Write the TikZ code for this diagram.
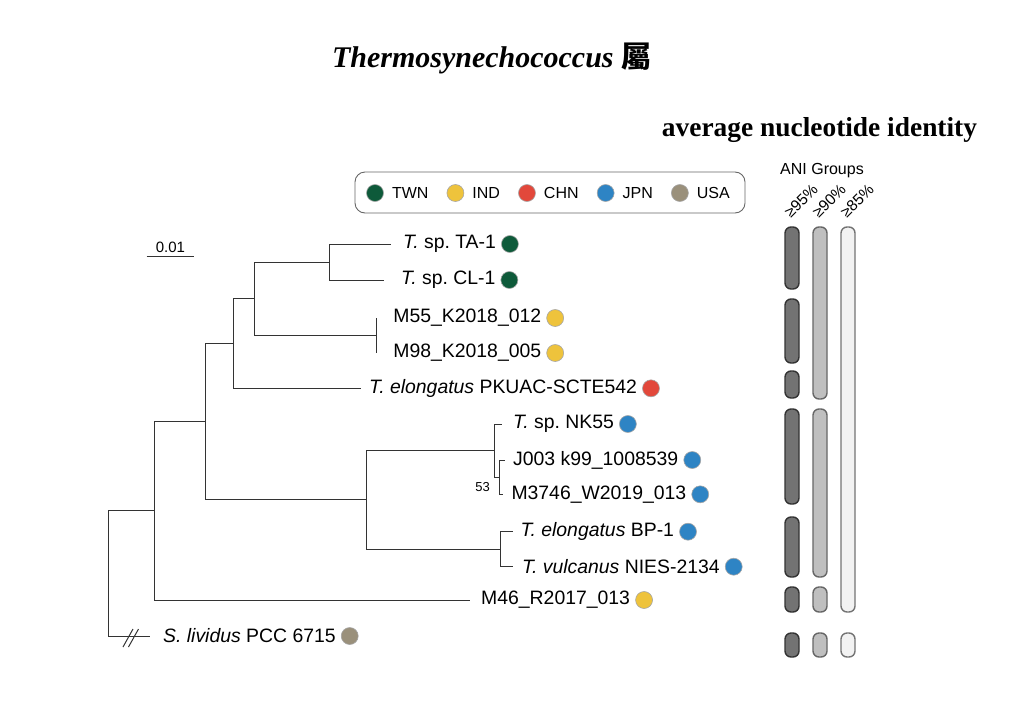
\documentclass[tikz,border=0pt]{standalone}
\usepackage{fontspec}
\setmainfont{Liberation Sans}
\newfontfamily\titlefont{Liberation Serif}
\newfontfamily\cjkfont{Noto Sans CJK TC}
\usetikzlibrary{positioning,calc}
\frenchspacing

\definecolor{twn}{HTML}{0E5A3A}
\definecolor{ind}{HTML}{EEC33C}
\definecolor{chn}{HTML}{E2483B}
\definecolor{jpn}{HTML}{2E84C4}
\definecolor{usa}{HTML}{9A907B}

\tikzset{
  branch/.style={draw=black!80, line width=1pt},
  lab/.style={inner sep=0pt, font=\fontsize{19.4}{21}\selectfont},
  small/.style={inner sep=0pt, font=\fontsize{16}{18}\selectfont},
  dot/.style={circle, draw=black!35, line width=0.6pt, fill=#1, minimum size=17pt, inner sep=0pt},
  anibar/.style={line width=1.4pt, rounded corners=6pt},
}

\begin{document}
\begin{tikzpicture}[x=1pt,y=-1pt]
    \useasboundingbox (0,0) rectangle (1027,715);

    % headings
    \node[inner sep=0pt] (title) at (492,58)
      {\fontsize{30}{34}\selectfont{\titlefont\bfseries\itshape Thermosynechococcus} {\cjkfont\bfseries 屬}};
    \node[inner sep=0pt] (anititle) at (819.5,130)
      {\fontsize{27.4}{30}\selectfont\titlefont\bfseries average nucleotide identity};

    % legend
    \node[draw=black!60, line width=0.9pt, rounded corners=10pt, minimum width=390pt, minimum height=41pt] (legend) at (550,192.5) {};
    \node[dot=twn] (kTWN) at (375,193) {};
    \node[small, right=8pt of kTWN] (tTWN) {TWN};
    \node[dot=ind, right=18pt of tTWN] (kIND) {};
    \node[small, right=8pt of kIND] (tIND) {IND};
    \node[dot=chn, right=18pt of tIND] (kCHN) {};
    \node[small, right=8pt of kCHN] (tCHN) {CHN};
    \node[dot=jpn, right=18pt of tCHN] (kJPN) {};
    \node[small, right=8pt of kJPN] (tJPN) {JPN};
    \node[dot=usa, right=18pt of tJPN] (kUSA) {};
    \node[small, right=8pt of kUSA] (tUSA) {USA};

    % scale bar
    \coordinate (sbL) at (146.7,256.7);
    \coordinate (sbR) at (194,256.7);
    \node[small, font=\fontsize{15}{17}\selectfont, above=4pt] (sbtext) at ($(sbL)!0.5!(sbR)$) {0.01};
    \draw[black!80, line width=1pt] (sbL) -- (sbR);

    % internal nodes and tips
    \coordinate (r)   at (108,573.4);
    \coordinate (n1)  at (154,510.8);
    \coordinate (n2)  at (205,421.6);
    \coordinate (n3)  at (233.3,343.5);
    \coordinate (n4)  at (254,298.7);
    \coordinate (n5)  at (329,262);
    \coordinate (n6)  at (376.7,335.5);
    \coordinate (n7)  at (366.7,499.7);
    \coordinate (n8)  at (494.3,450.5);
    \coordinate (n9)  at (499,477);
    \coordinate (n10) at (500,549);
    \coordinate (tTA) at (391,244);
    \coordinate (tCL) at (384,280);
    \coordinate (t55) at (376.7,318);
    \coordinate (t98) at (376.7,353);
    \coordinate (tPK) at (361,388.3);
    \coordinate (tNK) at (502,424);
    \coordinate (tJ)  at (505,460);
    \coordinate (tM37) at (503.3,494.3);
    \coordinate (tBP) at (513.3,531.7);
    \coordinate (tNI) at (513.3,566.7);
    \coordinate (tM46) at (470,600);
    \coordinate (tSL) at (150,636);

    \draw[branch]
    (r) |- (n1) (r) |- (tSL)
    (n1) |- (n2) (n1) |- (tM46)
    (n2) |- (n3) (n2) |- (n7)
    (n3) |- (n4) (n3) |- (tPK)
    (n4) |- (n5) (n4) |- (n6)
    (n5) |- (tTA) (n5) |- (tCL)
    (n6) -- (t55) (n6) -- (t98)
    (n7) |- (n8) (n7) |- (n10)
    (n8) |- (tNK) (n8) |- (n9)
    (n9) |- (tJ) (n9) |- (tM37)
    (n10) |- (tBP) (n10) |- (tNI)
    ;
    % long branch break
    \draw[black!80, line width=1pt] (123,647) -- (133,629) (128.5,647) -- (138.5,629);

    % leaf labels
    \node[lab, right=12pt of tTA] (lTA) {\textit{T.} sp. TA-1};
    \node[lab, right=17pt of tCL] (lCL) {\textit{T.} sp. CL-1};
    \node[lab, right=16.5pt of t55] (l55) {M55\_K2018\_012};
    \node[lab, right=16.5pt of t98] (l98) {M98\_K2018\_005};
    \node[lab, right=8pt of tPK] (lPK) {\textit{T. elongatus} PKUAC-SCTE542};
    \node[lab, right=11pt of tNK] (lNK) {\textit{T.} sp. NK55};
    \node[lab, right=8pt of tJ] (lJ) {J003 k99\_1008539};
    \node[lab, right=8pt of tM37] (lM37) {M3746\_W2019\_013};
    \node[lab, right=7pt of tBP] (lBP) {\textit{T. elongatus} BP-1};
    \node[lab, right=8.5pt of tNI] (lNI) {\textit{T. vulcanus} NIES-2134};
    \node[lab, right=11pt of tM46] (lM46) {M46\_R2017\_013};
    \node[lab, right=13pt of tSL] (lSL) {\textit{S. lividus} PCC 6715};
    \node[inner sep=0pt, font=\fontsize{13}{15}\selectfont] (boot) at (482.7,487.3) {53};

    % country dots
    \node[dot=twn, right=5pt of lTA] (dTA) {};
    \node[dot=twn, right=5pt of lCL] (dCL) {};
    \node[dot=ind, right=5pt of l55] (d55) {};
    \node[dot=ind, right=5pt of l98] (d98) {};
    \node[dot=chn, right=5pt of lPK] (dPK) {};
    \node[dot=jpn, right=5pt of lNK] (dNK) {};
    \node[dot=jpn, right=5pt of lJ] (dJ) {};
    \node[dot=jpn, right=5pt of lM37] (dM37) {};
    \node[dot=jpn, right=5pt of lBP] (dBP) {};
    \node[dot=jpn, right=5pt of lNI] (dNI) {};
    \node[dot=ind, right=5pt of lM46] (dM46) {};
    \node[dot=usa, right=5pt of lSL] (dSL) {};

    % ANI groups
    \node[small] (anihead) at (822,171) {ANI Groups};
    \node[small, font=\fontsize{15.5}{17}\selectfont, rotate=45, anchor=south west] (g95) at (791,219) {≥95\%};
    \node[small, font=\fontsize{15.5}{17}\selectfont, rotate=45, anchor=south west] (g90) at (819,219) {≥90\%};
    \node[small, font=\fontsize{15.5}{17}\selectfont, rotate=45, anchor=south west] (g85) at (847,219) {≥85\%};
    \foreach \ya/\yb in {227/289,299/363,371/398,409/504,517/577,587/612,633/657}
      \draw[anibar, draw=black!80, fill=black!55] (785,\ya) rectangle (799,\yb);
    \foreach \ya/\yb in {227/399,409/577,587/612,633/657}
      \draw[anibar, draw=black!60, fill=black!25] (813,\ya) rectangle (827,\yb);
    \foreach \ya/\yb in {227/612,633/657}
      \draw[anibar, draw=black!55, fill=black!5] (841,\ya) rectangle (855,\yb);
\end{tikzpicture}
\end{document}
